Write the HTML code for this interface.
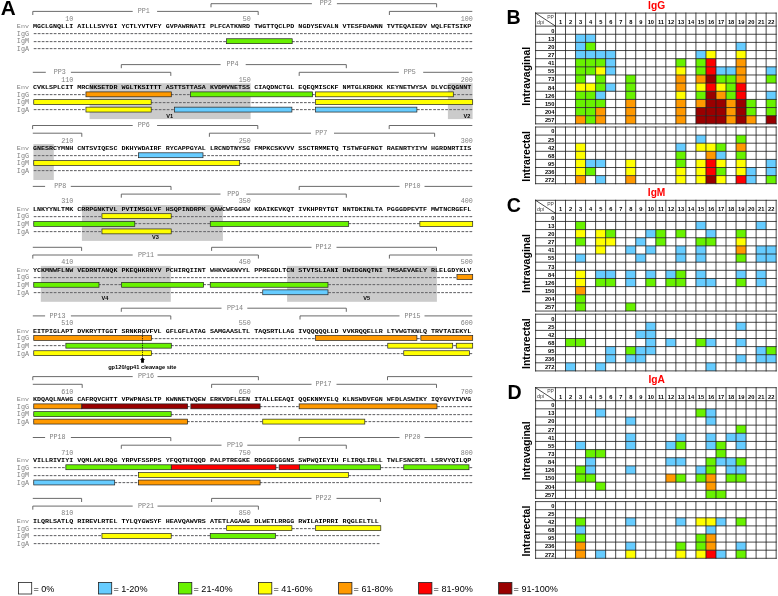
<!DOCTYPE html>
<html lang="en"><head><meta charset="utf-8"><title>Figure</title>
<style>html,body{margin:0;padding:0;background:#fff}svg{display:block}</style>
</head><body>
<svg width="778" height="596" viewBox="0 0 778 596">
<rect width="778" height="596" fill="#fff"/>
<g id="panelA">
<rect x="89.6" y="83.2" width="161.0" height="35.9" fill="#cbcbcb"/>
<rect x="447.9" y="83.2" width="24.7" height="35.9" fill="#cbcbcb"/>
<rect x="33.4" y="144.1" width="20.4" height="35.9" fill="#cbcbcb"/>
<rect x="81.9" y="205.0" width="141.0" height="35.9" fill="#cbcbcb"/>
<rect x="40.8" y="265.9" width="130.0" height="35.9" fill="#cbcbcb"/>
<rect x="287.1" y="265.9" width="149.8" height="35.9" fill="#cbcbcb"/>
<g stroke="#5a5a5a" stroke-width="0.9" fill="none">
<path d="M211.0 7.3V3.7H311.9M336.9 3.7H436.6V7.3"/>
<path d="M32.8 15.0V11.4H132.7M157.1 11.4H258.2V15.0"/>
<path d="M389.4 15.0V11.4H472.3"/>
<path d="M121.3 68.2V64.6H220.6M245.7 64.6H346.3V68.2"/>
<path d="M32.8 72.3H45.8M70.9 72.3H170.8V75.9"/>
<path d="M299.2 75.9V72.3H398.8M423.2 72.3H472.3"/>
<path d="M32.6 129.1V125.5H132.7M157.1 125.5H257.8V129.1"/>
<path d="M389.2 129.1V125.5H472.3"/>
<path d="M32.8 133.2H81.8V136.8"/>
<path d="M209.4 136.8V133.2H311.0M334.0 133.2H434.6V136.8"/>
<path d="M32.8 186.4H45.1M70.8 186.4H171.0V190.0"/>
<path d="M299.2 190.0V186.4H399.5M424.5 186.4H472.3"/>
<path d="M121.3 197.7V194.1H220.5M246.3 194.1H346.3V197.7"/>
<path d="M32.8 247.3H81.6V250.9"/>
<path d="M211.6 250.9V247.3H311.5M336.5 247.3H436.5V250.9"/>
<path d="M32.8 258.6V255.0H132.7M157.5 255.0H258.4V258.6"/>
<path d="M389.4 258.6V255.0H472.3"/>
<path d="M121.3 311.8V308.2H221.5M247.3 308.2H346.3V311.8"/>
<path d="M32.8 315.9H45.1M70.9 315.9H170.8V319.5"/>
<path d="M300.0 319.5V315.9H399.5M424.5 315.9H472.3"/>
<path d="M32.8 380.2V376.6H132.7M157.5 376.6H258.4V380.2"/>
<path d="M387.5 380.2V376.6H472.3"/>
<path d="M32.8 384.3H82.2V387.9"/>
<path d="M211.6 387.9V384.3H311.5M336.5 384.3H436.5V387.9"/>
<path d="M32.8 437.5H45.1M70.9 437.5H170.8V441.1"/>
<path d="M299.2 441.1V437.5H399.5M424.5 437.5H472.3"/>
<path d="M121.3 448.8V445.2H221.5M247.3 445.2H346.3V448.8"/>
<path d="M32.8 498.4H81.6V502.0"/>
<path d="M211.6 502.0V498.4H311.5M336.5 498.4H380.4V502.0"/>
<path d="M32.8 509.7V506.1H132.7M157.5 506.1H258.4V509.7"/>
</g>
<g font-family="'Liberation Mono', monospace" font-size="6.724px" fill="#808080">
<text x="325.8" y="5.4" text-anchor="middle">PP2</text>
<text x="143.8" y="13.1" text-anchor="middle">PP1</text>
<text x="232.5" y="66.3" text-anchor="middle">PP4</text>
<text x="59.8" y="74.0" text-anchor="middle">PP3</text>
<text x="409.7" y="74.0" text-anchor="middle">PP5</text>
<text x="143.7" y="127.2" text-anchor="middle">PP6</text>
<text x="321.2" y="134.9" text-anchor="middle">PP7</text>
<text x="60.3" y="188.1" text-anchor="middle">PP8</text>
<text x="412.5" y="188.1" text-anchor="middle">PP10</text>
<text x="233.3" y="195.8" text-anchor="middle">PP9</text>
<text x="323.6" y="249.0" text-anchor="middle">PP12</text>
<text x="146.0" y="256.7" text-anchor="middle">PP11</text>
<text x="235.0" y="309.9" text-anchor="middle">PP14</text>
<text x="57.5" y="317.6" text-anchor="middle">PP13</text>
<text x="412.5" y="317.6" text-anchor="middle">PP15</text>
<text x="146.0" y="378.3" text-anchor="middle">PP16</text>
<text x="323.6" y="386.0" text-anchor="middle">PP17</text>
<text x="57.5" y="439.2" text-anchor="middle">PP18</text>
<text x="412.5" y="439.2" text-anchor="middle">PP20</text>
<text x="235.0" y="446.9" text-anchor="middle">PP19</text>
<text x="323.6" y="500.1" text-anchor="middle">PP22</text>
<text x="146.0" y="507.8" text-anchor="middle">PP21</text>
<text x="73.35" y="20.7" text-anchor="end">10</text>
<text x="250.89" y="20.7" text-anchor="end">50</text>
<text x="472.81" y="20.7" text-anchor="end">100</text>
<text x="73.35" y="81.6" text-anchor="end">110</text>
<text x="250.89" y="81.6" text-anchor="end">150</text>
<text x="472.81" y="81.6" text-anchor="end">200</text>
<text x="73.35" y="142.5" text-anchor="end">210</text>
<text x="250.89" y="142.5" text-anchor="end">250</text>
<text x="472.81" y="142.5" text-anchor="end">300</text>
<text x="73.35" y="203.4" text-anchor="end">310</text>
<text x="250.89" y="203.4" text-anchor="end">350</text>
<text x="472.81" y="203.4" text-anchor="end">400</text>
<text x="73.35" y="264.3" text-anchor="end">410</text>
<text x="250.89" y="264.3" text-anchor="end">450</text>
<text x="472.81" y="264.3" text-anchor="end">500</text>
<text x="73.35" y="325.2" text-anchor="end">510</text>
<text x="250.89" y="325.2" text-anchor="end">550</text>
<text x="472.81" y="325.2" text-anchor="end">600</text>
<text x="73.35" y="393.6" text-anchor="end">610</text>
<text x="250.89" y="393.6" text-anchor="end">650</text>
<text x="472.81" y="393.6" text-anchor="end">700</text>
<text x="73.35" y="454.5" text-anchor="end">710</text>
<text x="250.89" y="454.5" text-anchor="end">750</text>
<text x="472.81" y="454.5" text-anchor="end">800</text>
<text x="73.35" y="515.4" text-anchor="end">810</text>
<text x="250.89" y="515.4" text-anchor="end">850</text>
</g>
<g font-family="'Liberation Mono', monospace" font-size="6.724px" xml:space="preserve">
<text transform="translate(16.86,28.3) scale(1,0.9)" fill="#808080">Env <tspan fill="#000" font-weight="bold">MGCLGNQLLI AILLLSVYGI YCTLYVTVFY GVPAWRNATI PLFCATKNRD TWGTTQCLPD NGDYSEVALN VTESFDAWNN TVTEQAIEDV WQLFETSIKP</tspan></text>
<text x="16.86" y="35.8" fill="#808080">IgG</text>
<text x="32.20" y="36.06" fill="#6c6c70" font-weight="bold" font-size="9.5px" letter-spacing="-1.666px">-------------------------------------------------------------------------------------------------------------</text>
<text x="16.86" y="43.4" fill="#808080">IgM</text>
<text x="32.20" y="43.71" fill="#6c6c70" font-weight="bold" font-size="9.5px" letter-spacing="-1.666px">-------------------------------------------------------------------------------------------------------------</text>
<text x="16.86" y="51.0" fill="#808080">IgA</text>
<text x="32.20" y="51.26" fill="#6c6c70" font-weight="bold" font-size="9.5px" letter-spacing="-1.666px">-------------------------------------------------------------------------------------------------------------</text>
<text transform="translate(16.86,89.2) scale(1,0.9)" fill="#808080">Env <tspan fill="#000" font-weight="bold">CVKLSPLCIT MRCNKSETDR WGLTKSITTT ASTTSTTASA KVDMVNETSS CIAQDNCTGL EQEQMISCKF NMTGLKRDKK KEYNETWYSA DLVCEQGNNT</tspan></text>
<text x="16.86" y="96.7" fill="#808080">IgG</text>
<text x="32.20" y="96.96" fill="#6c6c70" font-weight="bold" font-size="9.5px" letter-spacing="-1.666px">-------------------------------------------------------------------------------------------------------------</text>
<text x="16.86" y="104.3" fill="#808080">IgM</text>
<text x="32.20" y="104.61" fill="#6c6c70" font-weight="bold" font-size="9.5px" letter-spacing="-1.666px">-------------------------------------------------------------------------------------------------------------</text>
<text x="16.86" y="112.0" fill="#808080">IgA</text>
<text x="32.20" y="112.16" fill="#6c6c70" font-weight="bold" font-size="9.5px" letter-spacing="-1.666px">-------------------------------------------------------------------------------------------------------------</text>
<text transform="translate(16.86,150.1) scale(1,0.9)" fill="#808080">Env <tspan fill="#000" font-weight="bold">GNESRCYMNH CNTSVIQESC DKHYWDAIRF RYCAPPGYAL LRCNDTNYSG FMPKCSKVVV SSCTRMMETQ TSTWFGFNGT RAENRTYIYW HGRDNRTIIS</tspan></text>
<text x="16.86" y="157.5" fill="#808080">IgG</text>
<text x="32.20" y="157.86" fill="#6c6c70" font-weight="bold" font-size="9.5px" letter-spacing="-1.666px">-------------------------------------------------------------------------------------------------------------</text>
<text x="16.86" y="165.2" fill="#808080">IgM</text>
<text x="32.20" y="165.51" fill="#6c6c70" font-weight="bold" font-size="9.5px" letter-spacing="-1.666px">-------------------------------------------------------------------------------------------------------------</text>
<text x="16.86" y="172.8" fill="#808080">IgA</text>
<text x="32.20" y="173.06" fill="#6c6c70" font-weight="bold" font-size="9.5px" letter-spacing="-1.666px">-------------------------------------------------------------------------------------------------------------</text>
<text transform="translate(16.86,211.0) scale(1,0.9)" fill="#808080">Env <tspan fill="#000" font-weight="bold">LNKYYNLTMK CRRPGNKTVL PVTIMSGLVF HSQPINDRPK QAWCWFGGKW KDAIKEVKQT IVKHPRYTGT NNTDKINLTA PGGGDPEVTF MWTNCRGEFL</tspan></text>
<text x="16.86" y="218.4" fill="#808080">IgG</text>
<text x="32.20" y="218.76" fill="#6c6c70" font-weight="bold" font-size="9.5px" letter-spacing="-1.666px">-------------------------------------------------------------------------------------------------------------</text>
<text x="16.86" y="226.1" fill="#808080">IgM</text>
<text x="32.20" y="226.41" fill="#6c6c70" font-weight="bold" font-size="9.5px" letter-spacing="-1.666px">-------------------------------------------------------------------------------------------------------------</text>
<text x="16.86" y="233.8" fill="#808080">IgA</text>
<text x="32.20" y="233.96" fill="#6c6c70" font-weight="bold" font-size="9.5px" letter-spacing="-1.666px">-------------------------------------------------------------------------------------------------------------</text>
<text transform="translate(16.86,271.9) scale(1,0.9)" fill="#808080">Env <tspan fill="#000" font-weight="bold">YCKMNWFLNW VEDRNTANQK PKEQHKRNYV PCHIRQIINT WHKVGKNVYL PPREGDLTCN STVTSLIANI DWIDGNQTNI TMSAEVAELY RLELGDYKLV</tspan></text>
<text x="16.86" y="279.3" fill="#808080">IgG</text>
<text x="32.20" y="279.66" fill="#6c6c70" font-weight="bold" font-size="9.5px" letter-spacing="-1.666px">-------------------------------------------------------------------------------------------------------------</text>
<text x="16.86" y="287.0" fill="#808080">IgM</text>
<text x="32.20" y="287.31" fill="#6c6c70" font-weight="bold" font-size="9.5px" letter-spacing="-1.666px">-------------------------------------------------------------------------------------------------------------</text>
<text x="16.86" y="294.6" fill="#808080">IgA</text>
<text x="32.20" y="294.86" fill="#6c6c70" font-weight="bold" font-size="9.5px" letter-spacing="-1.666px">-------------------------------------------------------------------------------------------------------------</text>
<text transform="translate(16.86,332.8) scale(1,0.9)" fill="#808080">Env <tspan fill="#000" font-weight="bold">EITPIGLAPT DVKRYTTGGT SRNKRGVFVL GFLGFLATAG SAMGAASLTL TAQSRTLLAG IVQQQQQLLD VVKRQQELLR LTVWGTKNLQ TRVTAIEKYL</tspan></text>
<text x="16.86" y="340.2" fill="#808080">IgG</text>
<text x="32.20" y="340.56" fill="#6c6c70" font-weight="bold" font-size="9.5px" letter-spacing="-1.666px">-------------------------------------------------------------------------------------------------------------</text>
<text x="16.86" y="347.9" fill="#808080">IgM</text>
<text x="32.20" y="348.21" fill="#6c6c70" font-weight="bold" font-size="9.5px" letter-spacing="-1.666px">-------------------------------------------------------------------------------------------------------------</text>
<text x="16.86" y="355.6" fill="#808080">IgA</text>
<text x="32.20" y="355.76" fill="#6c6c70" font-weight="bold" font-size="9.5px" letter-spacing="-1.666px">-------------------------------------------------------------------------------------------------------------</text>
<text transform="translate(16.86,401.2) scale(1,0.9)" fill="#808080">Env <tspan fill="#000" font-weight="bold">KDQAQLNAWG CAFRQVCHTT VPWPNASLTP KWNNETWQEW ERKVDFLEEN ITALLEEAQI QQEKNMYELQ KLNSWDVFGN WFDLASWIKY IQYGVYIVVG</tspan></text>
<text x="16.86" y="408.6" fill="#808080">IgG</text>
<text x="32.20" y="408.96" fill="#6c6c70" font-weight="bold" font-size="9.5px" letter-spacing="-1.666px">-------------------------------------------------------------------------------------------------------------</text>
<text x="16.86" y="416.3" fill="#808080">IgM</text>
<text x="32.20" y="416.61" fill="#6c6c70" font-weight="bold" font-size="9.5px" letter-spacing="-1.666px">-------------------------------------------------------------------------------------------------------------</text>
<text x="16.86" y="423.9" fill="#808080">IgA</text>
<text x="32.20" y="424.16" fill="#6c6c70" font-weight="bold" font-size="9.5px" letter-spacing="-1.666px">-------------------------------------------------------------------------------------------------------------</text>
<text transform="translate(16.86,462.1) scale(1,0.9)" fill="#808080">Env <tspan fill="#000" font-weight="bold">VILLRIVIYI VQMLAKLRQG YRPVFSSPPS YFQQTHIQQD PALPTREGKE RDGGEGGGNS SWPWQIEYIH FLIRQLIRLL TWLFSNCRTL LSRVYQILQP</tspan></text>
<text x="16.86" y="469.6" fill="#808080">IgG</text>
<text x="32.20" y="469.86" fill="#6c6c70" font-weight="bold" font-size="9.5px" letter-spacing="-1.666px">-------------------------------------------------------------------------------------------------------------</text>
<text x="16.86" y="477.2" fill="#808080">IgM</text>
<text x="32.20" y="477.51" fill="#6c6c70" font-weight="bold" font-size="9.5px" letter-spacing="-1.666px">-------------------------------------------------------------------------------------------------------------</text>
<text x="16.86" y="484.9" fill="#808080">IgA</text>
<text x="32.20" y="485.06" fill="#6c6c70" font-weight="bold" font-size="9.5px" letter-spacing="-1.666px">-------------------------------------------------------------------------------------------------------------</text>
<text transform="translate(16.86,523.0) scale(1,0.9)" fill="#808080">Env <tspan fill="#000" font-weight="bold">ILQRLSATLQ RIREVLRTEL TYLQYGWSYF HEAVQAWVRS ATETLAGAWG DLWETLRRGG RWILAIPRRI RQGLELTLL</tspan></text>
<text x="16.86" y="530.5" fill="#808080">IgG</text>
<text x="32.20" y="530.76" fill="#6c6c70" font-weight="bold" font-size="9.5px" letter-spacing="-1.666px">--------------------------------------------------------------------------------------</text>
<text x="16.86" y="538.1" fill="#808080">IgM</text>
<text x="32.20" y="538.41" fill="#6c6c70" font-weight="bold" font-size="9.5px" letter-spacing="-1.666px">--------------------------------------------------------------------------------------</text>
<text x="16.86" y="545.8" fill="#808080">IgA</text>
<text x="32.20" y="545.96" fill="#6c6c70" font-weight="bold" font-size="9.5px" letter-spacing="-1.666px">--------------------------------------------------------------------------------------</text>
</g>
<g stroke="#222" stroke-width="0.7">
<rect x="226.55" y="38.75" width="65.65" height="4.9" fill="#68f200"/>
<rect x="85.95" y="91.90" width="85.35" height="4.9" fill="#ff9900"/>
<rect x="190.55" y="91.90" width="122.05" height="4.9" fill="#68f200"/>
<rect x="315.55" y="91.90" width="137.75" height="4.9" fill="#ffff00"/>
<rect x="33.75" y="99.65" width="117.45" height="4.9" fill="#ffff00"/>
<rect x="315.55" y="99.65" width="157.15" height="4.9" fill="#ffff00"/>
<rect x="85.95" y="107.15" width="65.25" height="4.9" fill="#ffff00"/>
<rect x="174.55" y="107.15" width="117.35" height="4.9" fill="#66ccff"/>
<rect x="315.55" y="107.15" width="101.35" height="4.9" fill="#66ccff"/>
<rect x="138.35" y="152.80" width="64.65" height="4.9" fill="#66ccff"/>
<rect x="33.75" y="160.55" width="205.95" height="4.9" fill="#ffff00"/>
<rect x="101.95" y="213.70" width="69.25" height="4.9" fill="#ffff00"/>
<rect x="33.75" y="221.45" width="101.05" height="4.9" fill="#68f200"/>
<rect x="210.25" y="221.45" width="138.45" height="4.9" fill="#68f200"/>
<rect x="419.85" y="221.45" width="52.85" height="4.9" fill="#ffff00"/>
<rect x="101.95" y="228.95" width="69.25" height="4.9" fill="#ffff00"/>
<rect x="456.95" y="274.60" width="15.75" height="4.9" fill="#ff9900"/>
<rect x="33.75" y="282.35" width="65.25" height="4.9" fill="#68f200"/>
<rect x="121.65" y="282.35" width="81.95" height="4.9" fill="#68f200"/>
<rect x="210.25" y="282.35" width="117.75" height="4.9" fill="#68f200"/>
<rect x="262.75" y="289.85" width="65.25" height="4.9" fill="#66ccff"/>
<rect x="33.75" y="335.50" width="117.75" height="4.9" fill="#ff9900"/>
<rect x="315.55" y="335.50" width="101.35" height="4.9" fill="#ff9900"/>
<rect x="420.85" y="335.50" width="51.85" height="4.9" fill="#ff9900"/>
<rect x="65.85" y="343.25" width="105.45" height="4.9" fill="#68f200"/>
<rect x="387.75" y="343.25" width="64.95" height="4.9" fill="#ffff00"/>
<rect x="456.25" y="343.25" width="16.45" height="4.9" fill="#ffff00"/>
<rect x="33.75" y="350.75" width="117.75" height="4.9" fill="#ffff00"/>
<rect x="403.75" y="350.75" width="65.65" height="4.9" fill="#ffff00"/>
<rect x="33.75" y="403.90" width="47.95" height="4.9" fill="#ff9900"/>
<rect x="81.95" y="403.90" width="105.65" height="4.9" fill="#990000"/>
<rect x="190.85" y="403.90" width="69.25" height="4.9" fill="#990000"/>
<rect x="299.15" y="403.90" width="137.85" height="4.9" fill="#ff9900"/>
<rect x="33.75" y="411.65" width="137.45" height="4.9" fill="#68f200"/>
<rect x="33.75" y="419.15" width="153.85" height="4.9" fill="#ff9900"/>
<rect x="262.75" y="419.15" width="102.05" height="4.9" fill="#ffff00"/>
<rect x="65.85" y="464.80" width="105.35" height="4.9" fill="#68f200"/>
<rect x="171.45" y="464.80" width="104.45" height="4.9" fill="#ff0000"/>
<rect x="279.15" y="464.80" width="20.15" height="4.9" fill="#ff0000"/>
<rect x="299.55" y="464.80" width="80.95" height="4.9" fill="#68f200"/>
<rect x="403.75" y="464.80" width="65.25" height="4.9" fill="#68f200"/>
<rect x="138.35" y="472.55" width="210.05" height="4.9" fill="#ffff00"/>
<rect x="33.75" y="480.05" width="80.95" height="4.9" fill="#66ccff"/>
<rect x="138.35" y="480.05" width="121.75" height="4.9" fill="#ff9900"/>
<rect x="226.65" y="525.70" width="65.25" height="4.9" fill="#ffff00"/>
<rect x="315.55" y="525.70" width="65.25" height="4.9" fill="#ffff00"/>
<rect x="101.95" y="533.45" width="69.25" height="4.9" fill="#ffff00"/>
<rect x="210.25" y="533.45" width="65.25" height="4.9" fill="#68f200"/>
</g>
<g font-family="'Liberation Sans', Arial, sans-serif" font-weight="bold" font-size="5.6px" fill="#000" text-anchor="middle">
<text x="169.7" y="117.6">V1</text>
<text x="466.9" y="117.6">V2</text>
<text x="155.4" y="239.4">V3</text>
<text x="104.9" y="300.3">V4</text>
<text x="366.7" y="300.3">V5</text>
</g>
<line x1="142.5" y1="333.3" x2="142.5" y2="357.8" stroke="#000" stroke-width="0.7" stroke-dasharray="1.4 0.9"/>
<path d="M142.5 357.4l2.6 2.4h-1.2v2.9h-2.8v-2.9h-1.2z" fill="#000"/>
<text x="142.3" y="368.8" font-family="'Liberation Sans', Arial, sans-serif" font-weight="bold" font-size="5.7px" text-anchor="middle">gp120/gp41 cleavage site</text>
</g>
<g font-family="'Liberation Sans', Arial, sans-serif" font-weight="bold" font-size="19.6px" fill="#000">
<text transform="translate(0.7,15.4) scale(1.06,1.02)">A</text>
<text x="506.5" y="23.8">B</text>
<text x="506.7" y="212.4">C</text>
<text x="507.4" y="398.6">D</text>
</g>
<g transform="translate(0,0.0)">
<text x="656.6" y="8.7" font-family="'Liberation Sans', Arial, sans-serif" font-weight="bold" font-size="10.2px" fill="#ff0000" text-anchor="middle">IgG</text>
<rect x="575.56" y="34.25" width="10.03" height="8.15" fill="#66ccff"/>
<rect x="585.59" y="34.25" width="10.03" height="8.15" fill="#66ccff"/>
<rect x="575.56" y="42.39" width="10.03" height="8.15" fill="#66ccff"/>
<rect x="585.59" y="42.39" width="10.03" height="8.15" fill="#68f200"/>
<rect x="736.04" y="42.39" width="10.03" height="8.15" fill="#66ccff"/>
<rect x="575.56" y="50.54" width="10.03" height="8.15" fill="#66ccff"/>
<rect x="585.59" y="50.54" width="10.03" height="8.15" fill="#66ccff"/>
<rect x="595.62" y="50.54" width="10.03" height="8.15" fill="#66ccff"/>
<rect x="605.65" y="50.54" width="10.03" height="8.15" fill="#66ccff"/>
<rect x="695.92" y="50.54" width="10.03" height="8.15" fill="#66ccff"/>
<rect x="705.95" y="50.54" width="10.03" height="8.15" fill="#ffff00"/>
<rect x="736.04" y="50.54" width="10.03" height="8.15" fill="#ffff00"/>
<rect x="575.56" y="58.68" width="10.03" height="8.15" fill="#68f200"/>
<rect x="585.59" y="58.68" width="10.03" height="8.15" fill="#68f200"/>
<rect x="595.62" y="58.68" width="10.03" height="8.15" fill="#68f200"/>
<rect x="605.65" y="58.68" width="10.03" height="8.15" fill="#66ccff"/>
<rect x="675.86" y="58.68" width="10.03" height="8.15" fill="#68f200"/>
<rect x="695.92" y="58.68" width="10.03" height="8.15" fill="#68f200"/>
<rect x="705.95" y="58.68" width="10.03" height="8.15" fill="#ff0000"/>
<rect x="736.04" y="58.68" width="10.03" height="8.15" fill="#ff9900"/>
<rect x="575.56" y="66.83" width="10.03" height="8.15" fill="#68f200"/>
<rect x="585.59" y="66.83" width="10.03" height="8.15" fill="#68f200"/>
<rect x="595.62" y="66.83" width="10.03" height="8.15" fill="#ffff00"/>
<rect x="605.65" y="66.83" width="10.03" height="8.15" fill="#66ccff"/>
<rect x="675.86" y="66.83" width="10.03" height="8.15" fill="#ffff00"/>
<rect x="695.92" y="66.83" width="10.03" height="8.15" fill="#68f200"/>
<rect x="705.95" y="66.83" width="10.03" height="8.15" fill="#ff0000"/>
<rect x="715.98" y="66.83" width="10.03" height="8.15" fill="#66ccff"/>
<rect x="726.01" y="66.83" width="10.03" height="8.15" fill="#66ccff"/>
<rect x="736.04" y="66.83" width="10.03" height="8.15" fill="#ff9900"/>
<rect x="766.13" y="66.83" width="10.03" height="8.15" fill="#66ccff"/>
<rect x="575.56" y="74.98" width="10.03" height="8.15" fill="#68f200"/>
<rect x="595.62" y="74.98" width="10.03" height="8.15" fill="#68f200"/>
<rect x="625.71" y="74.98" width="10.03" height="8.15" fill="#68f200"/>
<rect x="675.86" y="74.98" width="10.03" height="8.15" fill="#ff9900"/>
<rect x="695.92" y="74.98" width="10.03" height="8.15" fill="#ff9900"/>
<rect x="705.95" y="74.98" width="10.03" height="8.15" fill="#990000"/>
<rect x="715.98" y="74.98" width="10.03" height="8.15" fill="#68f200"/>
<rect x="726.01" y="74.98" width="10.03" height="8.15" fill="#68f200"/>
<rect x="736.04" y="74.98" width="10.03" height="8.15" fill="#ff9900"/>
<rect x="766.13" y="74.98" width="10.03" height="8.15" fill="#68f200"/>
<rect x="575.56" y="83.12" width="10.03" height="8.15" fill="#ffff00"/>
<rect x="585.59" y="83.12" width="10.03" height="8.15" fill="#ffff00"/>
<rect x="595.62" y="83.12" width="10.03" height="8.15" fill="#68f200"/>
<rect x="605.65" y="83.12" width="10.03" height="8.15" fill="#66ccff"/>
<rect x="625.71" y="83.12" width="10.03" height="8.15" fill="#68f200"/>
<rect x="675.86" y="83.12" width="10.03" height="8.15" fill="#ff9900"/>
<rect x="695.92" y="83.12" width="10.03" height="8.15" fill="#ffff00"/>
<rect x="705.95" y="83.12" width="10.03" height="8.15" fill="#ff0000"/>
<rect x="715.98" y="83.12" width="10.03" height="8.15" fill="#ffff00"/>
<rect x="726.01" y="83.12" width="10.03" height="8.15" fill="#68f200"/>
<rect x="736.04" y="83.12" width="10.03" height="8.15" fill="#ff0000"/>
<rect x="575.56" y="91.27" width="10.03" height="8.15" fill="#68f200"/>
<rect x="585.59" y="91.27" width="10.03" height="8.15" fill="#68f200"/>
<rect x="595.62" y="91.27" width="10.03" height="8.15" fill="#66ccff"/>
<rect x="625.71" y="91.27" width="10.03" height="8.15" fill="#68f200"/>
<rect x="675.86" y="91.27" width="10.03" height="8.15" fill="#ffff00"/>
<rect x="695.92" y="91.27" width="10.03" height="8.15" fill="#68f200"/>
<rect x="705.95" y="91.27" width="10.03" height="8.15" fill="#990000"/>
<rect x="715.98" y="91.27" width="10.03" height="8.15" fill="#ff9900"/>
<rect x="726.01" y="91.27" width="10.03" height="8.15" fill="#68f200"/>
<rect x="736.04" y="91.27" width="10.03" height="8.15" fill="#ff0000"/>
<rect x="766.13" y="91.27" width="10.03" height="8.15" fill="#66ccff"/>
<rect x="575.56" y="99.41" width="10.03" height="8.15" fill="#68f200"/>
<rect x="585.59" y="99.41" width="10.03" height="8.15" fill="#68f200"/>
<rect x="595.62" y="99.41" width="10.03" height="8.15" fill="#68f200"/>
<rect x="625.71" y="99.41" width="10.03" height="8.15" fill="#ff9900"/>
<rect x="675.86" y="99.41" width="10.03" height="8.15" fill="#ff9900"/>
<rect x="695.92" y="99.41" width="10.03" height="8.15" fill="#ff9900"/>
<rect x="705.95" y="99.41" width="10.03" height="8.15" fill="#990000"/>
<rect x="715.98" y="99.41" width="10.03" height="8.15" fill="#990000"/>
<rect x="726.01" y="99.41" width="10.03" height="8.15" fill="#ff9900"/>
<rect x="736.04" y="99.41" width="10.03" height="8.15" fill="#990000"/>
<rect x="746.07" y="99.41" width="10.03" height="8.15" fill="#68f200"/>
<rect x="766.13" y="99.41" width="10.03" height="8.15" fill="#68f200"/>
<rect x="575.56" y="107.56" width="10.03" height="8.15" fill="#68f200"/>
<rect x="585.59" y="107.56" width="10.03" height="8.15" fill="#68f200"/>
<rect x="595.62" y="107.56" width="10.03" height="8.15" fill="#ff9900"/>
<rect x="625.71" y="107.56" width="10.03" height="8.15" fill="#ff9900"/>
<rect x="675.86" y="107.56" width="10.03" height="8.15" fill="#ff9900"/>
<rect x="695.92" y="107.56" width="10.03" height="8.15" fill="#990000"/>
<rect x="705.95" y="107.56" width="10.03" height="8.15" fill="#990000"/>
<rect x="715.98" y="107.56" width="10.03" height="8.15" fill="#990000"/>
<rect x="726.01" y="107.56" width="10.03" height="8.15" fill="#ff9900"/>
<rect x="736.04" y="107.56" width="10.03" height="8.15" fill="#990000"/>
<rect x="746.07" y="107.56" width="10.03" height="8.15" fill="#68f200"/>
<rect x="766.13" y="107.56" width="10.03" height="8.15" fill="#68f200"/>
<rect x="575.56" y="115.71" width="10.03" height="8.15" fill="#ff9900"/>
<rect x="585.59" y="115.71" width="10.03" height="8.15" fill="#68f200"/>
<rect x="595.62" y="115.71" width="10.03" height="8.15" fill="#ff9900"/>
<rect x="625.71" y="115.71" width="10.03" height="8.15" fill="#ff9900"/>
<rect x="675.86" y="115.71" width="10.03" height="8.15" fill="#ff9900"/>
<rect x="695.92" y="115.71" width="10.03" height="8.15" fill="#990000"/>
<rect x="705.95" y="115.71" width="10.03" height="8.15" fill="#990000"/>
<rect x="715.98" y="115.71" width="10.03" height="8.15" fill="#990000"/>
<rect x="726.01" y="115.71" width="10.03" height="8.15" fill="#ff9900"/>
<rect x="736.04" y="115.71" width="10.03" height="8.15" fill="#990000"/>
<rect x="746.07" y="115.71" width="10.03" height="8.15" fill="#ff9900"/>
<rect x="766.13" y="115.71" width="10.03" height="8.15" fill="#990000"/>
<rect x="695.92" y="135.10" width="10.03" height="8.10" fill="#66ccff"/>
<rect x="736.04" y="135.10" width="10.03" height="8.10" fill="#68f200"/>
<rect x="575.56" y="143.20" width="10.03" height="8.10" fill="#ffff00"/>
<rect x="675.86" y="143.20" width="10.03" height="8.10" fill="#66ccff"/>
<rect x="695.92" y="143.20" width="10.03" height="8.10" fill="#ffff00"/>
<rect x="705.95" y="143.20" width="10.03" height="8.10" fill="#ffff00"/>
<rect x="715.98" y="143.20" width="10.03" height="8.10" fill="#68f200"/>
<rect x="736.04" y="143.20" width="10.03" height="8.10" fill="#ff9900"/>
<rect x="575.56" y="151.30" width="10.03" height="8.10" fill="#ffff00"/>
<rect x="675.86" y="151.30" width="10.03" height="8.10" fill="#68f200"/>
<rect x="705.95" y="151.30" width="10.03" height="8.10" fill="#ff9900"/>
<rect x="715.98" y="151.30" width="10.03" height="8.10" fill="#66ccff"/>
<rect x="736.04" y="151.30" width="10.03" height="8.10" fill="#68f200"/>
<rect x="575.56" y="159.40" width="10.03" height="8.10" fill="#ffff00"/>
<rect x="585.59" y="159.40" width="10.03" height="8.10" fill="#66ccff"/>
<rect x="595.62" y="159.40" width="10.03" height="8.10" fill="#66ccff"/>
<rect x="625.71" y="159.40" width="10.03" height="8.10" fill="#ffff00"/>
<rect x="675.86" y="159.40" width="10.03" height="8.10" fill="#68f200"/>
<rect x="695.92" y="159.40" width="10.03" height="8.10" fill="#ffff00"/>
<rect x="705.95" y="159.40" width="10.03" height="8.10" fill="#ff0000"/>
<rect x="715.98" y="159.40" width="10.03" height="8.10" fill="#ffff00"/>
<rect x="736.04" y="159.40" width="10.03" height="8.10" fill="#ffff00"/>
<rect x="766.13" y="159.40" width="10.03" height="8.10" fill="#66ccff"/>
<rect x="575.56" y="167.50" width="10.03" height="8.10" fill="#ffff00"/>
<rect x="585.59" y="167.50" width="10.03" height="8.10" fill="#68f200"/>
<rect x="625.71" y="167.50" width="10.03" height="8.10" fill="#ffff00"/>
<rect x="675.86" y="167.50" width="10.03" height="8.10" fill="#ffff00"/>
<rect x="695.92" y="167.50" width="10.03" height="8.10" fill="#ffff00"/>
<rect x="705.95" y="167.50" width="10.03" height="8.10" fill="#ff0000"/>
<rect x="715.98" y="167.50" width="10.03" height="8.10" fill="#68f200"/>
<rect x="736.04" y="167.50" width="10.03" height="8.10" fill="#ffff00"/>
<rect x="746.07" y="167.50" width="10.03" height="8.10" fill="#66ccff"/>
<rect x="766.13" y="167.50" width="10.03" height="8.10" fill="#66ccff"/>
<rect x="575.56" y="175.60" width="10.03" height="8.10" fill="#ff9900"/>
<rect x="595.62" y="175.60" width="10.03" height="8.10" fill="#66ccff"/>
<rect x="625.71" y="175.60" width="10.03" height="8.10" fill="#ff9900"/>
<rect x="675.86" y="175.60" width="10.03" height="8.10" fill="#ffff00"/>
<rect x="695.92" y="175.60" width="10.03" height="8.10" fill="#ffff00"/>
<rect x="705.95" y="175.60" width="10.03" height="8.10" fill="#990000"/>
<rect x="715.98" y="175.60" width="10.03" height="8.10" fill="#ffff00"/>
<rect x="736.04" y="175.60" width="10.03" height="8.10" fill="#ff0000"/>
<rect x="746.07" y="175.60" width="10.03" height="8.10" fill="#66ccff"/>
<rect x="766.13" y="175.60" width="10.03" height="8.10" fill="#68f200"/>
<path d="M535.60 13.10H776.16M535.60 26.10H776.16M535.60 34.25H776.16M535.60 42.39H776.16M535.60 50.54H776.16M535.60 58.68H776.16M535.60 66.83H776.16M535.60 74.98H776.16M535.60 83.12H776.16M535.60 91.27H776.16M535.60 99.41H776.16M535.60 107.56H776.16M535.60 115.71H776.16M535.60 123.85H776.16M535.60 13.10V123.85M555.50 13.10V123.85M565.53 13.10V123.85M575.56 13.10V123.85M585.59 13.10V123.85M595.62 13.10V123.85M605.65 13.10V123.85M615.68 13.10V123.85M625.71 13.10V123.85M635.74 13.10V123.85M645.77 13.10V123.85M655.80 13.10V123.85M665.83 13.10V123.85M675.86 13.10V123.85M685.89 13.10V123.85M695.92 13.10V123.85M705.95 13.10V123.85M715.98 13.10V123.85M726.01 13.10V123.85M736.04 13.10V123.85M746.07 13.10V123.85M756.10 13.10V123.85M766.13 13.10V123.85M776.16 13.10V123.85M535.60 127.00H776.16M535.60 135.10H776.16M535.60 143.20H776.16M535.60 151.30H776.16M535.60 159.40H776.16M535.60 167.50H776.16M535.60 175.60H776.16M535.60 183.70H776.16M535.60 127.00V183.70M555.50 127.00V183.70M565.53 127.00V183.70M575.56 127.00V183.70M585.59 127.00V183.70M595.62 127.00V183.70M605.65 127.00V183.70M615.68 127.00V183.70M625.71 127.00V183.70M635.74 127.00V183.70M645.77 127.00V183.70M655.80 127.00V183.70M665.83 127.00V183.70M675.86 127.00V183.70M685.89 127.00V183.70M695.92 127.00V183.70M705.95 127.00V183.70M715.98 127.00V183.70M726.01 127.00V183.70M736.04 127.00V183.70M746.07 127.00V183.70M756.10 127.00V183.70M766.13 127.00V183.70M776.16 127.00V183.70M535.60 13.10L555.50 26.10" stroke="#1c1c1c" stroke-width="0.8" fill="none" stroke-linecap="square"/>
<g font-family="'Liberation Sans', Arial, sans-serif" font-size="5.1px" fill="#444">
<text x="547.2" y="18.5">PP</text><text x="537.1" y="23.8" font-size="5.4px">dpi</text>
</g>
<g font-family="'Liberation Sans', Arial, sans-serif" font-weight="bold" font-size="5.7px" fill="#000">
<text x="560.62" y="24.2" text-anchor="middle">1</text>
<text x="570.64" y="24.2" text-anchor="middle">2</text>
<text x="580.68" y="24.2" text-anchor="middle">3</text>
<text x="590.71" y="24.2" text-anchor="middle">4</text>
<text x="600.74" y="24.2" text-anchor="middle">5</text>
<text x="610.76" y="24.2" text-anchor="middle">6</text>
<text x="620.79" y="24.2" text-anchor="middle">7</text>
<text x="630.83" y="24.2" text-anchor="middle">8</text>
<text x="640.86" y="24.2" text-anchor="middle">9</text>
<text x="650.88" y="24.2" text-anchor="middle">10</text>
<text x="660.92" y="24.2" text-anchor="middle">11</text>
<text x="670.95" y="24.2" text-anchor="middle">12</text>
<text x="680.98" y="24.2" text-anchor="middle">13</text>
<text x="691.00" y="24.2" text-anchor="middle">14</text>
<text x="701.03" y="24.2" text-anchor="middle">15</text>
<text x="711.07" y="24.2" text-anchor="middle">16</text>
<text x="721.10" y="24.2" text-anchor="middle">17</text>
<text x="731.12" y="24.2" text-anchor="middle">18</text>
<text x="741.15" y="24.2" text-anchor="middle">19</text>
<text x="751.19" y="24.2" text-anchor="middle">20</text>
<text x="761.22" y="24.2" text-anchor="middle">21</text>
<text x="771.25" y="24.2" text-anchor="middle">22</text>
<text x="554.4" y="32.55" text-anchor="end">0</text>
<text x="554.4" y="40.69" text-anchor="end">13</text>
<text x="554.4" y="48.84" text-anchor="end">20</text>
<text x="554.4" y="56.98" text-anchor="end">27</text>
<text x="554.4" y="65.13" text-anchor="end">41</text>
<text x="554.4" y="73.28" text-anchor="end">55</text>
<text x="554.4" y="81.42" text-anchor="end">73</text>
<text x="554.4" y="89.57" text-anchor="end">84</text>
<text x="554.4" y="97.71" text-anchor="end">126</text>
<text x="554.4" y="105.86" text-anchor="end">150</text>
<text x="554.4" y="114.01" text-anchor="end">204</text>
<text x="554.4" y="122.15" text-anchor="end">257</text>
<text x="554.4" y="133.40" text-anchor="end">0</text>
<text x="554.4" y="141.50" text-anchor="end">25</text>
<text x="554.4" y="149.60" text-anchor="end">42</text>
<text x="554.4" y="157.70" text-anchor="end">68</text>
<text x="554.4" y="165.80" text-anchor="end">95</text>
<text x="554.4" y="173.90" text-anchor="end">236</text>
<text x="554.4" y="182.00" text-anchor="end">272</text>
</g>
<g font-family="'Liberation Sans', Arial, sans-serif" font-weight="bold" font-size="10.5px" fill="#000" text-anchor="middle">
<text transform="translate(530.3,76.3) rotate(-90)">Intravaginal</text>
<text transform="translate(530.3,156.4) rotate(-90)">Intrarectal</text>
</g>
</g>
<g transform="translate(0,187.2)">
<text x="656.6" y="8.7" font-family="'Liberation Sans', Arial, sans-serif" font-weight="bold" font-size="10.2px" fill="#ff0000" text-anchor="middle">IgM</text>
<rect x="575.56" y="34.25" width="10.03" height="8.15" fill="#68f200"/>
<rect x="695.92" y="34.25" width="10.03" height="8.15" fill="#66ccff"/>
<rect x="756.10" y="34.25" width="10.03" height="8.15" fill="#66ccff"/>
<rect x="575.56" y="42.39" width="10.03" height="8.15" fill="#ffff00"/>
<rect x="595.62" y="42.39" width="10.03" height="8.15" fill="#ffff00"/>
<rect x="605.65" y="42.39" width="10.03" height="8.15" fill="#68f200"/>
<rect x="645.77" y="42.39" width="10.03" height="8.15" fill="#66ccff"/>
<rect x="655.80" y="42.39" width="10.03" height="8.15" fill="#68f200"/>
<rect x="675.86" y="42.39" width="10.03" height="8.15" fill="#68f200"/>
<rect x="705.95" y="42.39" width="10.03" height="8.15" fill="#66ccff"/>
<rect x="736.04" y="42.39" width="10.03" height="8.15" fill="#68f200"/>
<rect x="575.56" y="50.54" width="10.03" height="8.15" fill="#68f200"/>
<rect x="595.62" y="50.54" width="10.03" height="8.15" fill="#ffff00"/>
<rect x="605.65" y="50.54" width="10.03" height="8.15" fill="#ffff00"/>
<rect x="635.74" y="50.54" width="10.03" height="8.15" fill="#66ccff"/>
<rect x="655.80" y="50.54" width="10.03" height="8.15" fill="#68f200"/>
<rect x="695.92" y="50.54" width="10.03" height="8.15" fill="#68f200"/>
<rect x="705.95" y="50.54" width="10.03" height="8.15" fill="#68f200"/>
<rect x="736.04" y="50.54" width="10.03" height="8.15" fill="#ffff00"/>
<rect x="595.62" y="58.68" width="10.03" height="8.15" fill="#ffff00"/>
<rect x="625.71" y="58.68" width="10.03" height="8.15" fill="#66ccff"/>
<rect x="645.77" y="58.68" width="10.03" height="8.15" fill="#66ccff"/>
<rect x="675.86" y="58.68" width="10.03" height="8.15" fill="#66ccff"/>
<rect x="695.92" y="58.68" width="10.03" height="8.15" fill="#66ccff"/>
<rect x="736.04" y="58.68" width="10.03" height="8.15" fill="#ff9900"/>
<rect x="756.10" y="58.68" width="10.03" height="8.15" fill="#66ccff"/>
<rect x="766.13" y="58.68" width="10.03" height="8.15" fill="#66ccff"/>
<rect x="575.56" y="66.83" width="10.03" height="8.15" fill="#66ccff"/>
<rect x="635.74" y="66.83" width="10.03" height="8.15" fill="#66ccff"/>
<rect x="675.86" y="66.83" width="10.03" height="8.15" fill="#66ccff"/>
<rect x="695.92" y="66.83" width="10.03" height="8.15" fill="#66ccff"/>
<rect x="736.04" y="66.83" width="10.03" height="8.15" fill="#68f200"/>
<rect x="756.10" y="66.83" width="10.03" height="8.15" fill="#66ccff"/>
<rect x="766.13" y="66.83" width="10.03" height="8.15" fill="#66ccff"/>
<rect x="575.56" y="83.12" width="10.03" height="8.15" fill="#ffff00"/>
<rect x="595.62" y="83.12" width="10.03" height="8.15" fill="#66ccff"/>
<rect x="605.65" y="83.12" width="10.03" height="8.15" fill="#66ccff"/>
<rect x="625.71" y="83.12" width="10.03" height="8.15" fill="#66ccff"/>
<rect x="645.77" y="83.12" width="10.03" height="8.15" fill="#66ccff"/>
<rect x="665.83" y="83.12" width="10.03" height="8.15" fill="#66ccff"/>
<rect x="675.86" y="83.12" width="10.03" height="8.15" fill="#68f200"/>
<rect x="695.92" y="83.12" width="10.03" height="8.15" fill="#66ccff"/>
<rect x="736.04" y="83.12" width="10.03" height="8.15" fill="#66ccff"/>
<rect x="756.10" y="83.12" width="10.03" height="8.15" fill="#66ccff"/>
<rect x="575.56" y="91.27" width="10.03" height="8.15" fill="#ffff00"/>
<rect x="595.62" y="91.27" width="10.03" height="8.15" fill="#68f200"/>
<rect x="605.65" y="91.27" width="10.03" height="8.15" fill="#68f200"/>
<rect x="625.71" y="91.27" width="10.03" height="8.15" fill="#66ccff"/>
<rect x="645.77" y="91.27" width="10.03" height="8.15" fill="#68f200"/>
<rect x="665.83" y="91.27" width="10.03" height="8.15" fill="#68f200"/>
<rect x="675.86" y="91.27" width="10.03" height="8.15" fill="#68f200"/>
<rect x="695.92" y="91.27" width="10.03" height="8.15" fill="#66ccff"/>
<rect x="705.95" y="91.27" width="10.03" height="8.15" fill="#66ccff"/>
<rect x="736.04" y="91.27" width="10.03" height="8.15" fill="#68f200"/>
<rect x="756.10" y="91.27" width="10.03" height="8.15" fill="#66ccff"/>
<rect x="575.56" y="99.41" width="10.03" height="8.15" fill="#ff9900"/>
<rect x="575.56" y="107.56" width="10.03" height="8.15" fill="#68f200"/>
<rect x="575.56" y="115.71" width="10.03" height="8.15" fill="#68f200"/>
<rect x="625.71" y="115.71" width="10.03" height="8.15" fill="#68f200"/>
<rect x="645.77" y="135.10" width="10.03" height="8.10" fill="#66ccff"/>
<rect x="736.04" y="135.10" width="10.03" height="8.10" fill="#66ccff"/>
<rect x="635.74" y="143.20" width="10.03" height="8.10" fill="#66ccff"/>
<rect x="645.77" y="143.20" width="10.03" height="8.10" fill="#66ccff"/>
<rect x="565.53" y="151.30" width="10.03" height="8.10" fill="#68f200"/>
<rect x="575.56" y="151.30" width="10.03" height="8.10" fill="#68f200"/>
<rect x="645.77" y="151.30" width="10.03" height="8.10" fill="#66ccff"/>
<rect x="665.83" y="151.30" width="10.03" height="8.10" fill="#66ccff"/>
<rect x="695.92" y="151.30" width="10.03" height="8.10" fill="#68f200"/>
<rect x="705.95" y="151.30" width="10.03" height="8.10" fill="#66ccff"/>
<rect x="736.04" y="151.30" width="10.03" height="8.10" fill="#66ccff"/>
<rect x="605.65" y="159.40" width="10.03" height="8.10" fill="#66ccff"/>
<rect x="625.71" y="159.40" width="10.03" height="8.10" fill="#68f200"/>
<rect x="635.74" y="159.40" width="10.03" height="8.10" fill="#66ccff"/>
<rect x="645.77" y="159.40" width="10.03" height="8.10" fill="#66ccff"/>
<rect x="756.10" y="159.40" width="10.03" height="8.10" fill="#66ccff"/>
<rect x="766.13" y="159.40" width="10.03" height="8.10" fill="#68f200"/>
<rect x="605.65" y="167.50" width="10.03" height="8.10" fill="#66ccff"/>
<rect x="625.71" y="167.50" width="10.03" height="8.10" fill="#66ccff"/>
<rect x="635.74" y="167.50" width="10.03" height="8.10" fill="#66ccff"/>
<rect x="736.04" y="167.50" width="10.03" height="8.10" fill="#66ccff"/>
<rect x="756.10" y="167.50" width="10.03" height="8.10" fill="#66ccff"/>
<rect x="766.13" y="167.50" width="10.03" height="8.10" fill="#66ccff"/>
<rect x="565.53" y="175.60" width="10.03" height="8.10" fill="#66ccff"/>
<rect x="595.62" y="175.60" width="10.03" height="8.10" fill="#66ccff"/>
<rect x="705.95" y="175.60" width="10.03" height="8.10" fill="#66ccff"/>
<path d="M535.60 13.10H776.16M535.60 26.10H776.16M535.60 34.25H776.16M535.60 42.39H776.16M535.60 50.54H776.16M535.60 58.68H776.16M535.60 66.83H776.16M535.60 74.98H776.16M535.60 83.12H776.16M535.60 91.27H776.16M535.60 99.41H776.16M535.60 107.56H776.16M535.60 115.71H776.16M535.60 123.85H776.16M535.60 13.10V123.85M555.50 13.10V123.85M565.53 13.10V123.85M575.56 13.10V123.85M585.59 13.10V123.85M595.62 13.10V123.85M605.65 13.10V123.85M615.68 13.10V123.85M625.71 13.10V123.85M635.74 13.10V123.85M645.77 13.10V123.85M655.80 13.10V123.85M665.83 13.10V123.85M675.86 13.10V123.85M685.89 13.10V123.85M695.92 13.10V123.85M705.95 13.10V123.85M715.98 13.10V123.85M726.01 13.10V123.85M736.04 13.10V123.85M746.07 13.10V123.85M756.10 13.10V123.85M766.13 13.10V123.85M776.16 13.10V123.85M535.60 127.00H776.16M535.60 135.10H776.16M535.60 143.20H776.16M535.60 151.30H776.16M535.60 159.40H776.16M535.60 167.50H776.16M535.60 175.60H776.16M535.60 183.70H776.16M535.60 127.00V183.70M555.50 127.00V183.70M565.53 127.00V183.70M575.56 127.00V183.70M585.59 127.00V183.70M595.62 127.00V183.70M605.65 127.00V183.70M615.68 127.00V183.70M625.71 127.00V183.70M635.74 127.00V183.70M645.77 127.00V183.70M655.80 127.00V183.70M665.83 127.00V183.70M675.86 127.00V183.70M685.89 127.00V183.70M695.92 127.00V183.70M705.95 127.00V183.70M715.98 127.00V183.70M726.01 127.00V183.70M736.04 127.00V183.70M746.07 127.00V183.70M756.10 127.00V183.70M766.13 127.00V183.70M776.16 127.00V183.70M535.60 13.10L555.50 26.10" stroke="#1c1c1c" stroke-width="0.8" fill="none" stroke-linecap="square"/>
<g font-family="'Liberation Sans', Arial, sans-serif" font-size="5.1px" fill="#444">
<text x="547.2" y="18.5">PP</text><text x="537.1" y="23.8" font-size="5.4px">dpi</text>
</g>
<g font-family="'Liberation Sans', Arial, sans-serif" font-weight="bold" font-size="5.7px" fill="#000">
<text x="560.62" y="24.2" text-anchor="middle">1</text>
<text x="570.64" y="24.2" text-anchor="middle">2</text>
<text x="580.68" y="24.2" text-anchor="middle">3</text>
<text x="590.71" y="24.2" text-anchor="middle">4</text>
<text x="600.74" y="24.2" text-anchor="middle">5</text>
<text x="610.76" y="24.2" text-anchor="middle">6</text>
<text x="620.79" y="24.2" text-anchor="middle">7</text>
<text x="630.83" y="24.2" text-anchor="middle">8</text>
<text x="640.86" y="24.2" text-anchor="middle">9</text>
<text x="650.88" y="24.2" text-anchor="middle">10</text>
<text x="660.92" y="24.2" text-anchor="middle">11</text>
<text x="670.95" y="24.2" text-anchor="middle">12</text>
<text x="680.98" y="24.2" text-anchor="middle">13</text>
<text x="691.00" y="24.2" text-anchor="middle">14</text>
<text x="701.03" y="24.2" text-anchor="middle">15</text>
<text x="711.07" y="24.2" text-anchor="middle">16</text>
<text x="721.10" y="24.2" text-anchor="middle">17</text>
<text x="731.12" y="24.2" text-anchor="middle">18</text>
<text x="741.15" y="24.2" text-anchor="middle">19</text>
<text x="751.19" y="24.2" text-anchor="middle">20</text>
<text x="761.22" y="24.2" text-anchor="middle">21</text>
<text x="771.25" y="24.2" text-anchor="middle">22</text>
<text x="554.4" y="32.55" text-anchor="end">0</text>
<text x="554.4" y="40.69" text-anchor="end">13</text>
<text x="554.4" y="48.84" text-anchor="end">20</text>
<text x="554.4" y="56.98" text-anchor="end">27</text>
<text x="554.4" y="65.13" text-anchor="end">41</text>
<text x="554.4" y="73.28" text-anchor="end">55</text>
<text x="554.4" y="81.42" text-anchor="end">73</text>
<text x="554.4" y="89.57" text-anchor="end">84</text>
<text x="554.4" y="97.71" text-anchor="end">126</text>
<text x="554.4" y="105.86" text-anchor="end">150</text>
<text x="554.4" y="114.01" text-anchor="end">204</text>
<text x="554.4" y="122.15" text-anchor="end">257</text>
<text x="554.4" y="133.40" text-anchor="end">0</text>
<text x="554.4" y="141.50" text-anchor="end">25</text>
<text x="554.4" y="149.60" text-anchor="end">42</text>
<text x="554.4" y="157.70" text-anchor="end">68</text>
<text x="554.4" y="165.80" text-anchor="end">95</text>
<text x="554.4" y="173.90" text-anchor="end">236</text>
<text x="554.4" y="182.00" text-anchor="end">272</text>
</g>
<g font-family="'Liberation Sans', Arial, sans-serif" font-weight="bold" font-size="10.5px" fill="#000" text-anchor="middle">
<text transform="translate(530.3,76.3) rotate(-90)">Intravaginal</text>
<text transform="translate(530.3,156.4) rotate(-90)">Intrarectal</text>
</g>
</g>
<g transform="translate(0,374.6)">
<text x="656.6" y="8.7" font-family="'Liberation Sans', Arial, sans-serif" font-weight="bold" font-size="10.2px" fill="#ff0000" text-anchor="middle">IgA</text>
<rect x="595.62" y="34.25" width="10.03" height="8.15" fill="#66ccff"/>
<rect x="695.92" y="34.25" width="10.03" height="8.15" fill="#68f200"/>
<rect x="705.95" y="34.25" width="10.03" height="8.15" fill="#66ccff"/>
<rect x="625.71" y="42.39" width="10.03" height="8.15" fill="#66ccff"/>
<rect x="705.95" y="42.39" width="10.03" height="8.15" fill="#66ccff"/>
<rect x="736.04" y="50.54" width="10.03" height="8.15" fill="#68f200"/>
<rect x="625.71" y="58.68" width="10.03" height="8.15" fill="#66ccff"/>
<rect x="675.86" y="58.68" width="10.03" height="8.15" fill="#66ccff"/>
<rect x="705.95" y="58.68" width="10.03" height="8.15" fill="#66ccff"/>
<rect x="726.01" y="58.68" width="10.03" height="8.15" fill="#66ccff"/>
<rect x="736.04" y="58.68" width="10.03" height="8.15" fill="#66ccff"/>
<rect x="575.56" y="66.83" width="10.03" height="8.15" fill="#66ccff"/>
<rect x="625.71" y="66.83" width="10.03" height="8.15" fill="#66ccff"/>
<rect x="665.83" y="66.83" width="10.03" height="8.15" fill="#66ccff"/>
<rect x="675.86" y="66.83" width="10.03" height="8.15" fill="#68f200"/>
<rect x="705.95" y="66.83" width="10.03" height="8.15" fill="#66ccff"/>
<rect x="715.98" y="66.83" width="10.03" height="8.15" fill="#68f200"/>
<rect x="736.04" y="66.83" width="10.03" height="8.15" fill="#66ccff"/>
<rect x="585.59" y="74.98" width="10.03" height="8.15" fill="#68f200"/>
<rect x="595.62" y="74.98" width="10.03" height="8.15" fill="#68f200"/>
<rect x="715.98" y="74.98" width="10.03" height="8.15" fill="#68f200"/>
<rect x="585.59" y="83.12" width="10.03" height="8.15" fill="#66ccff"/>
<rect x="665.83" y="83.12" width="10.03" height="8.15" fill="#66ccff"/>
<rect x="675.86" y="83.12" width="10.03" height="8.15" fill="#66ccff"/>
<rect x="705.95" y="83.12" width="10.03" height="8.15" fill="#68f200"/>
<rect x="715.98" y="83.12" width="10.03" height="8.15" fill="#66ccff"/>
<rect x="726.01" y="83.12" width="10.03" height="8.15" fill="#66ccff"/>
<rect x="736.04" y="83.12" width="10.03" height="8.15" fill="#68f200"/>
<rect x="575.56" y="91.27" width="10.03" height="8.15" fill="#68f200"/>
<rect x="585.59" y="91.27" width="10.03" height="8.15" fill="#66ccff"/>
<rect x="625.71" y="91.27" width="10.03" height="8.15" fill="#66ccff"/>
<rect x="695.92" y="91.27" width="10.03" height="8.15" fill="#66ccff"/>
<rect x="705.95" y="91.27" width="10.03" height="8.15" fill="#68f200"/>
<rect x="726.01" y="91.27" width="10.03" height="8.15" fill="#66ccff"/>
<rect x="736.04" y="91.27" width="10.03" height="8.15" fill="#66ccff"/>
<rect x="575.56" y="99.41" width="10.03" height="8.15" fill="#68f200"/>
<rect x="585.59" y="99.41" width="10.03" height="8.15" fill="#68f200"/>
<rect x="665.83" y="99.41" width="10.03" height="8.15" fill="#ff9900"/>
<rect x="675.86" y="99.41" width="10.03" height="8.15" fill="#68f200"/>
<rect x="695.92" y="99.41" width="10.03" height="8.15" fill="#68f200"/>
<rect x="705.95" y="99.41" width="10.03" height="8.15" fill="#ff9900"/>
<rect x="726.01" y="99.41" width="10.03" height="8.15" fill="#68f200"/>
<rect x="736.04" y="99.41" width="10.03" height="8.15" fill="#68f200"/>
<rect x="595.62" y="107.56" width="10.03" height="8.15" fill="#68f200"/>
<rect x="705.95" y="107.56" width="10.03" height="8.15" fill="#ff9900"/>
<rect x="705.95" y="115.71" width="10.03" height="8.15" fill="#68f200"/>
<rect x="715.98" y="115.71" width="10.03" height="8.15" fill="#68f200"/>
<rect x="575.56" y="143.20" width="10.03" height="8.10" fill="#68f200"/>
<rect x="625.71" y="143.20" width="10.03" height="8.10" fill="#66ccff"/>
<rect x="675.86" y="143.20" width="10.03" height="8.10" fill="#66ccff"/>
<rect x="695.92" y="143.20" width="10.03" height="8.10" fill="#ffff00"/>
<rect x="705.95" y="143.20" width="10.03" height="8.10" fill="#ffff00"/>
<rect x="715.98" y="143.20" width="10.03" height="8.10" fill="#66ccff"/>
<rect x="736.04" y="143.20" width="10.03" height="8.10" fill="#68f200"/>
<rect x="575.56" y="151.30" width="10.03" height="8.10" fill="#66ccff"/>
<rect x="705.95" y="151.30" width="10.03" height="8.10" fill="#66ccff"/>
<rect x="575.56" y="159.40" width="10.03" height="8.10" fill="#68f200"/>
<rect x="695.92" y="159.40" width="10.03" height="8.10" fill="#68f200"/>
<rect x="705.95" y="159.40" width="10.03" height="8.10" fill="#ff9900"/>
<rect x="575.56" y="167.50" width="10.03" height="8.10" fill="#ff9900"/>
<rect x="625.71" y="167.50" width="10.03" height="8.10" fill="#66ccff"/>
<rect x="675.86" y="167.50" width="10.03" height="8.10" fill="#68f200"/>
<rect x="695.92" y="167.50" width="10.03" height="8.10" fill="#68f200"/>
<rect x="705.95" y="167.50" width="10.03" height="8.10" fill="#ff9900"/>
<rect x="736.04" y="167.50" width="10.03" height="8.10" fill="#66ccff"/>
<rect x="575.56" y="175.60" width="10.03" height="8.10" fill="#ff9900"/>
<rect x="595.62" y="175.60" width="10.03" height="8.10" fill="#66ccff"/>
<rect x="625.71" y="175.60" width="10.03" height="8.10" fill="#ffff00"/>
<rect x="675.86" y="175.60" width="10.03" height="8.10" fill="#ffff00"/>
<rect x="695.92" y="175.60" width="10.03" height="8.10" fill="#ffff00"/>
<rect x="705.95" y="175.60" width="10.03" height="8.10" fill="#ff0000"/>
<rect x="715.98" y="175.60" width="10.03" height="8.10" fill="#66ccff"/>
<rect x="736.04" y="175.60" width="10.03" height="8.10" fill="#68f200"/>
<path d="M535.60 13.10H776.16M535.60 26.10H776.16M535.60 34.25H776.16M535.60 42.39H776.16M535.60 50.54H776.16M535.60 58.68H776.16M535.60 66.83H776.16M535.60 74.98H776.16M535.60 83.12H776.16M535.60 91.27H776.16M535.60 99.41H776.16M535.60 107.56H776.16M535.60 115.71H776.16M535.60 123.85H776.16M535.60 13.10V123.85M555.50 13.10V123.85M565.53 13.10V123.85M575.56 13.10V123.85M585.59 13.10V123.85M595.62 13.10V123.85M605.65 13.10V123.85M615.68 13.10V123.85M625.71 13.10V123.85M635.74 13.10V123.85M645.77 13.10V123.85M655.80 13.10V123.85M665.83 13.10V123.85M675.86 13.10V123.85M685.89 13.10V123.85M695.92 13.10V123.85M705.95 13.10V123.85M715.98 13.10V123.85M726.01 13.10V123.85M736.04 13.10V123.85M746.07 13.10V123.85M756.10 13.10V123.85M766.13 13.10V123.85M776.16 13.10V123.85M535.60 127.00H776.16M535.60 135.10H776.16M535.60 143.20H776.16M535.60 151.30H776.16M535.60 159.40H776.16M535.60 167.50H776.16M535.60 175.60H776.16M535.60 183.70H776.16M535.60 127.00V183.70M555.50 127.00V183.70M565.53 127.00V183.70M575.56 127.00V183.70M585.59 127.00V183.70M595.62 127.00V183.70M605.65 127.00V183.70M615.68 127.00V183.70M625.71 127.00V183.70M635.74 127.00V183.70M645.77 127.00V183.70M655.80 127.00V183.70M665.83 127.00V183.70M675.86 127.00V183.70M685.89 127.00V183.70M695.92 127.00V183.70M705.95 127.00V183.70M715.98 127.00V183.70M726.01 127.00V183.70M736.04 127.00V183.70M746.07 127.00V183.70M756.10 127.00V183.70M766.13 127.00V183.70M776.16 127.00V183.70M535.60 13.10L555.50 26.10" stroke="#1c1c1c" stroke-width="0.8" fill="none" stroke-linecap="square"/>
<g font-family="'Liberation Sans', Arial, sans-serif" font-size="5.1px" fill="#444">
<text x="547.2" y="18.5">PP</text><text x="537.1" y="23.8" font-size="5.4px">dpi</text>
</g>
<g font-family="'Liberation Sans', Arial, sans-serif" font-weight="bold" font-size="5.7px" fill="#000">
<text x="560.62" y="24.2" text-anchor="middle">1</text>
<text x="570.64" y="24.2" text-anchor="middle">2</text>
<text x="580.68" y="24.2" text-anchor="middle">3</text>
<text x="590.71" y="24.2" text-anchor="middle">4</text>
<text x="600.74" y="24.2" text-anchor="middle">5</text>
<text x="610.76" y="24.2" text-anchor="middle">6</text>
<text x="620.79" y="24.2" text-anchor="middle">7</text>
<text x="630.83" y="24.2" text-anchor="middle">8</text>
<text x="640.86" y="24.2" text-anchor="middle">9</text>
<text x="650.88" y="24.2" text-anchor="middle">10</text>
<text x="660.92" y="24.2" text-anchor="middle">11</text>
<text x="670.95" y="24.2" text-anchor="middle">12</text>
<text x="680.98" y="24.2" text-anchor="middle">13</text>
<text x="691.00" y="24.2" text-anchor="middle">14</text>
<text x="701.03" y="24.2" text-anchor="middle">15</text>
<text x="711.07" y="24.2" text-anchor="middle">16</text>
<text x="721.10" y="24.2" text-anchor="middle">17</text>
<text x="731.12" y="24.2" text-anchor="middle">18</text>
<text x="741.15" y="24.2" text-anchor="middle">19</text>
<text x="751.19" y="24.2" text-anchor="middle">20</text>
<text x="761.22" y="24.2" text-anchor="middle">21</text>
<text x="771.25" y="24.2" text-anchor="middle">22</text>
<text x="554.4" y="32.55" text-anchor="end">0</text>
<text x="554.4" y="40.69" text-anchor="end">13</text>
<text x="554.4" y="48.84" text-anchor="end">20</text>
<text x="554.4" y="56.98" text-anchor="end">27</text>
<text x="554.4" y="65.13" text-anchor="end">41</text>
<text x="554.4" y="73.28" text-anchor="end">55</text>
<text x="554.4" y="81.42" text-anchor="end">73</text>
<text x="554.4" y="89.57" text-anchor="end">84</text>
<text x="554.4" y="97.71" text-anchor="end">126</text>
<text x="554.4" y="105.86" text-anchor="end">150</text>
<text x="554.4" y="114.01" text-anchor="end">204</text>
<text x="554.4" y="122.15" text-anchor="end">257</text>
<text x="554.4" y="133.40" text-anchor="end">0</text>
<text x="554.4" y="141.50" text-anchor="end">25</text>
<text x="554.4" y="149.60" text-anchor="end">42</text>
<text x="554.4" y="157.70" text-anchor="end">68</text>
<text x="554.4" y="165.80" text-anchor="end">95</text>
<text x="554.4" y="173.90" text-anchor="end">236</text>
<text x="554.4" y="182.00" text-anchor="end">272</text>
</g>
<g font-family="'Liberation Sans', Arial, sans-serif" font-weight="bold" font-size="10.5px" fill="#000" text-anchor="middle">
<text transform="translate(530.3,76.3) rotate(-90)">Intravaginal</text>
<text transform="translate(530.3,156.4) rotate(-90)">Intrarectal</text>
</g>
</g>
<g font-family="'Liberation Sans', Arial, sans-serif" font-size="9.1px" fill="#000">
<rect x="18.4" y="582.4" width="13.3" height="11.6" fill="#ffffff" stroke="#222" stroke-width="0.8"/>
<text x="33.4" y="592.0">= 0%</text>
<rect x="98.4" y="582.4" width="13.3" height="11.6" fill="#66ccff" stroke="#222" stroke-width="0.8"/>
<text x="113.4" y="592.0">= 1-20%</text>
<rect x="178.5" y="582.4" width="13.3" height="11.6" fill="#68f200" stroke="#222" stroke-width="0.8"/>
<text x="193.5" y="592.0">= 21-40%</text>
<rect x="258.5" y="582.4" width="13.3" height="11.6" fill="#ffff00" stroke="#222" stroke-width="0.8"/>
<text x="273.5" y="592.0">= 41-60%</text>
<rect x="338.6" y="582.4" width="13.3" height="11.6" fill="#ff9900" stroke="#222" stroke-width="0.8"/>
<text x="353.6" y="592.0">= 61-80%</text>
<rect x="418.6" y="582.4" width="13.3" height="11.6" fill="#ff0000" stroke="#222" stroke-width="0.8"/>
<text x="433.6" y="592.0">= 81-90%</text>
<rect x="498.6" y="582.4" width="13.3" height="11.6" fill="#990000" stroke="#222" stroke-width="0.8"/>
<text x="513.6" y="592.0">= 91-100%</text>
</g>
</svg>
</body></html>
